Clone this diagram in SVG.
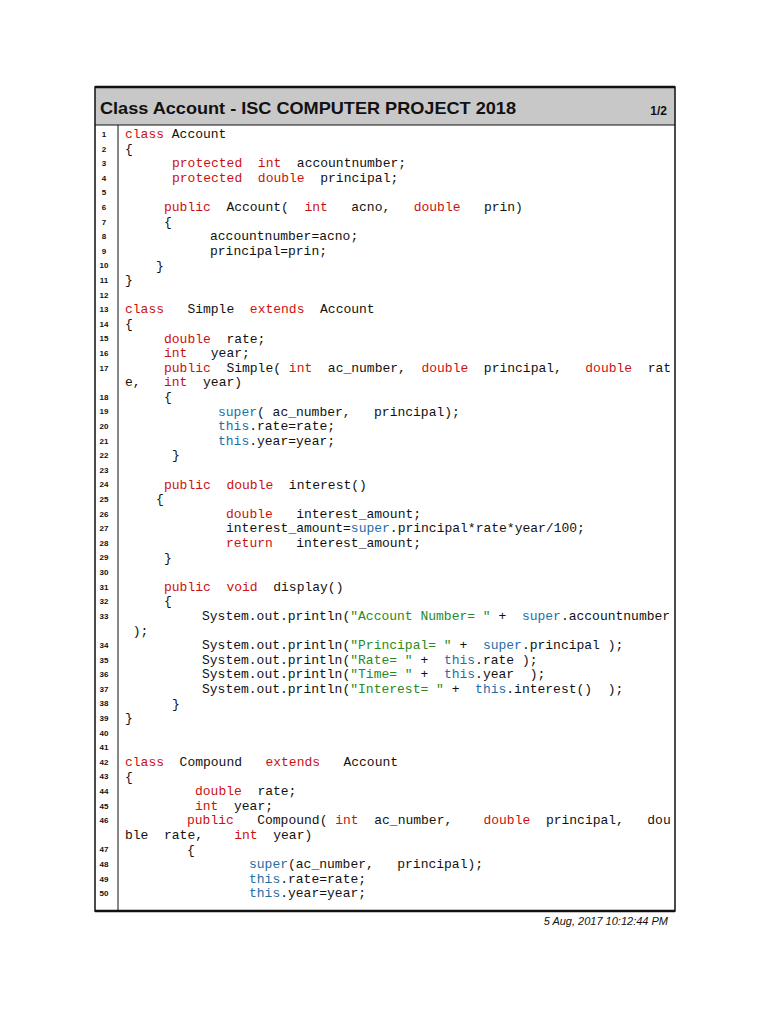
<svg xmlns="http://www.w3.org/2000/svg" width="768" height="1024" viewBox="0 0 768 1024">
<style>
.c{font-family:"Liberation Mono",monospace;font-size:13px;fill:#111;white-space:pre}
.k{fill:#cc1010}.b{fill:#1e6ea8}.s{fill:#2a8a20}
.n{font-family:"Liberation Sans",sans-serif;font-size:8px;font-weight:bold;fill:#111;text-anchor:middle}
</style>
<rect x="0" y="0" width="768" height="1024" fill="#fff"/>
<rect x="95" y="87" width="580" height="38" fill="#c8c8c8"/>
<rect x="95" y="87" width="580" height="824" fill="none" stroke="#111" stroke-width="1.5"/>
<line x1="95" y1="87" x2="675" y2="87" stroke="#111" stroke-width="2.5"/>
<line x1="95" y1="125" x2="675" y2="125" stroke="#111" stroke-width="1"/>
<line x1="95" y1="911" x2="675" y2="911" stroke="#111" stroke-width="2.5"/>
<line x1="118" y1="125" x2="118" y2="911" stroke="#111" stroke-width="1"/>
<text x="100" y="114" font-family="Liberation Sans,sans-serif" font-size="17" font-weight="bold" fill="#111" textLength="416" lengthAdjust="spacingAndGlyphs">Class Account - ISC COMPUTER PROJECT 2018</text>
<text x="667" y="115" font-family="Liberation Sans,sans-serif" font-size="12" font-weight="bold" fill="#111" text-anchor="end">1/2</text>
<text x="668" y="925" font-family="Liberation Sans,sans-serif" font-size="11" font-style="italic" fill="#111" text-anchor="end">5 Aug, 2017 10:12:44 PM</text>
<g>
<text class="n" x="104" y="137">1</text><text class="n" x="104" y="152">2</text><text class="n" x="104" y="166">3</text><text class="n" x="104" y="181">4</text><text class="n" x="104" y="195">5</text>
<text class="n" x="104" y="210">6</text><text class="n" x="104" y="225">7</text><text class="n" x="104" y="239">8</text><text class="n" x="104" y="254">9</text><text class="n" x="104" y="268">10</text>
<text class="n" x="104" y="283">11</text><text class="n" x="104" y="298">12</text><text class="n" x="104" y="312">13</text><text class="n" x="104" y="327">14</text><text class="n" x="104" y="341">15</text>
<text class="n" x="104" y="356">16</text><text class="n" x="104" y="371">17</text><text class="n" x="104" y="400">18</text><text class="n" x="104" y="414">19</text><text class="n" x="104" y="429">20</text>
<text class="n" x="104" y="444">21</text><text class="n" x="104" y="458">22</text><text class="n" x="104" y="473">23</text><text class="n" x="104" y="487">24</text><text class="n" x="104" y="502">25</text>
<text class="n" x="104" y="517">26</text><text class="n" x="104" y="531">27</text><text class="n" x="104" y="546">28</text><text class="n" x="104" y="560">29</text><text class="n" x="104" y="575">30</text>
<text class="n" x="104" y="590">31</text><text class="n" x="104" y="604">32</text><text class="n" x="104" y="619">33</text><text class="n" x="104" y="648">34</text><text class="n" x="104" y="663">35</text>
<text class="n" x="104" y="677">36</text><text class="n" x="104" y="692">37</text><text class="n" x="104" y="706">38</text><text class="n" x="104" y="721">39</text><text class="n" x="104" y="736">40</text>
<text class="n" x="104" y="750">41</text><text class="n" x="104" y="765">42</text><text class="n" x="104" y="779">43</text><text class="n" x="104" y="794">44</text><text class="n" x="104" y="809">45</text>
<text class="n" x="104" y="823">46</text><text class="n" x="104" y="852">47</text><text class="n" x="104" y="867">48</text><text class="n" x="104" y="882">49</text><text class="n" x="104" y="896">50</text>
</g>
<g>
<text class="c" x="125" y="138"><tspan class="k">class</tspan> Account</text>
<text class="c" x="125" y="153">{</text>
<text class="c" x="172" y="167"><tspan class="k">protected</tspan>  <tspan class="k">int</tspan>  accountnumber;</text>
<text class="c" x="172" y="182"><tspan class="k">protected</tspan>  <tspan class="k">double</tspan>  principal;</text>
<text class="c" x="164" y="211"><tspan class="k">public</tspan>  Account(  <tspan class="k">int</tspan>   acno,   <tspan class="k">double</tspan>   prin)</text>
<text class="c" x="164" y="226">{</text>
<text class="c" x="210" y="240">accountnumber=acno;</text>
<text class="c" x="210" y="255">principal=prin;</text>
<text class="c" x="156" y="270">}</text>
<text class="c" x="125" y="284">}</text>
<text class="c" x="125" y="313"><tspan class="k">class</tspan>   Simple  <tspan class="k">extends</tspan>  Account</text>
<text class="c" x="125" y="328">{</text>
<text class="c" x="164" y="343"><tspan class="k">double</tspan>  rate;</text>
<text class="c" x="164" y="357"><tspan class="k">int</tspan>   year;</text>
<text class="c" x="164" y="372"><tspan class="k">public</tspan>  Simple( <tspan class="k">int</tspan>  ac_number,  <tspan class="k">double</tspan>  principal,   <tspan class="k">double</tspan>  rat</text>
<text class="c" x="125" y="386">e,   <tspan class="k">int</tspan>  year)</text>
<text class="c" x="164" y="401">{</text>
<text class="c" x="218" y="416"><tspan class="b">super</tspan>( ac_number,   principal);</text>
<text class="c" x="218" y="430"><tspan class="b">this</tspan>.rate=rate;</text>
<text class="c" x="218" y="445"><tspan class="b">this</tspan>.year=year;</text>
<text class="c" x="172" y="459">}</text>
<text class="c" x="164" y="489"><tspan class="k">public</tspan>  <tspan class="k">double</tspan>  interest()</text>
<text class="c" x="156" y="503">{</text>
<text class="c" x="226" y="518"><tspan class="k">double</tspan>   interest_amount;</text>
<text class="c" x="226" y="532">interest_amount=<tspan class="b">super</tspan>.principal*rate*year/100;</text>
<text class="c" x="226" y="547"><tspan class="k">return</tspan>   interest_amount;</text>
<text class="c" x="164" y="562">}</text>
<text class="c" x="164" y="591"><tspan class="k">public</tspan>  <tspan class="k">void</tspan>  display()</text>
<text class="c" x="164" y="605">{</text>
<text class="c" x="202" y="620">System.out.println(<tspan class="s">"Account Number= "</tspan> +  <tspan class="b">super</tspan>.accountnumber</text>
<text class="c" x="125" y="635"> );</text>
<text class="c" x="202" y="649">System.out.println(<tspan class="s">"Principal= "</tspan> +  <tspan class="b">super</tspan>.principal );</text>
<text class="c" x="202" y="664">System.out.println(<tspan class="s">"Rate= "</tspan> +  <tspan class="b">this</tspan>.rate );</text>
<text class="c" x="202" y="678">System.out.println(<tspan class="s">"Time= "</tspan> +  <tspan class="b">this</tspan>.year  );</text>
<text class="c" x="202" y="693">System.out.println(<tspan class="s">"Interest= "</tspan> +  <tspan class="b">this</tspan>.interest()  );</text>
<text class="c" x="172" y="708">}</text>
<text class="c" x="125" y="722">}</text>
<text class="c" x="125" y="766"><tspan class="k">class</tspan>  Compound   <tspan class="k">extends</tspan>   Account</text>
<text class="c" x="125" y="781">{</text>
<text class="c" x="195" y="795"><tspan class="k">double</tspan>  rate;</text>
<text class="c" x="195" y="810"><tspan class="k">int</tspan>  year;</text>
<text class="c" x="187" y="824"><tspan class="k">public</tspan>   Compound( <tspan class="k">int</tspan>  ac_number,    <tspan class="k">double</tspan>  principal,   dou</text>
<text class="c" x="125" y="839">ble  rate,    <tspan class="k">int</tspan>  year)</text>
<text class="c" x="187" y="854">{</text>
<text class="c" x="249" y="868"><tspan class="b">super</tspan>(ac_number,   principal);</text>
<text class="c" x="249" y="883"><tspan class="b">this</tspan>.rate=rate;</text>
<text class="c" x="249" y="897"><tspan class="b">this</tspan>.year=year;</text>
</g>
</svg>
